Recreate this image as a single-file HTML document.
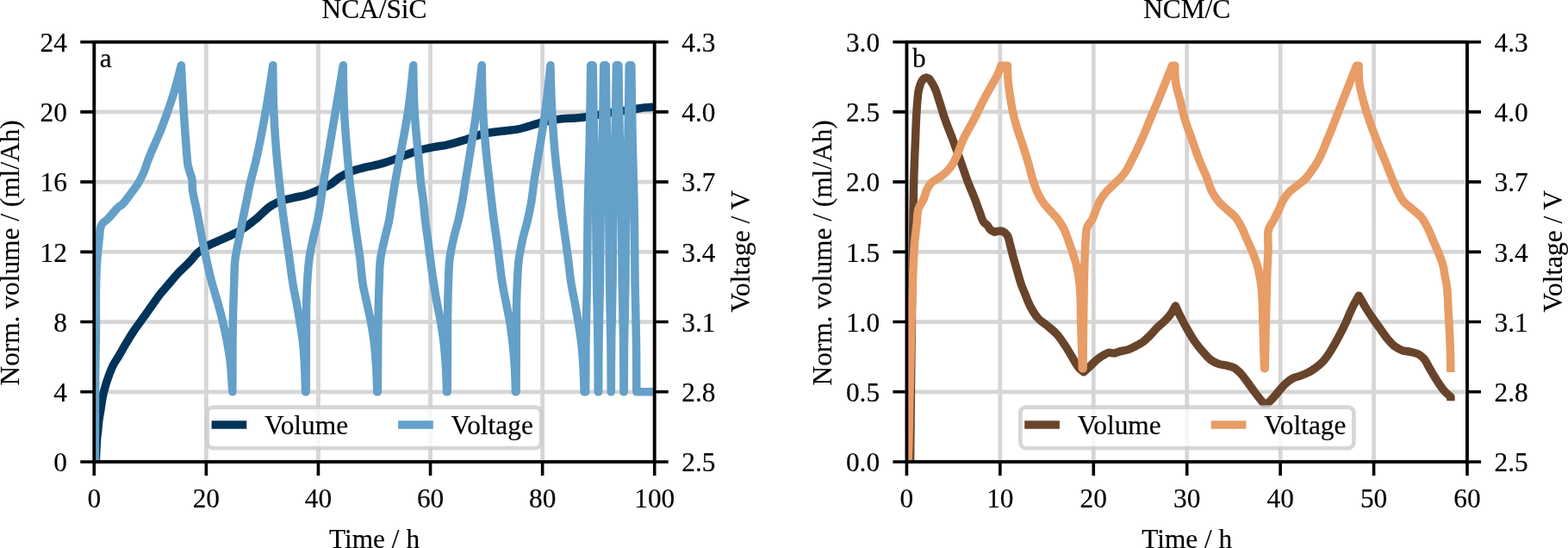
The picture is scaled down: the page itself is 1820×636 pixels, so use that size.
<!DOCTYPE html>
<html lang="en">
<head>
<meta charset="utf-8">
<title>Normalized gas volume and voltage over time</title>
<style>
html, body { margin: 0; padding: 0; background: #ffffff; }
body { width: 1820px; height: 636px; overflow: hidden; }
svg { display: block; }
svg text { font-family: "Liberation Serif", serif; font-size: 32.1px; fill: #000; stroke: #000; stroke-width: 0.18px; }
</style>
</head>
<body>
<svg width="1820" height="636" viewBox="0 0 1820 636">
<rect width="1820" height="636" fill="#ffffff"/>
<clipPath id="c1"><rect x="109.25" y="48.7" width="650.50" height="487.30"/></clipPath>
<path d="M109.25,48.7V536.0M239.35,48.7V536.0M369.45,48.7V536.0M499.55,48.7V536.0M629.65,48.7V536.0M759.75,48.7V536.0M109.25,536.00H759.75M109.25,454.78H759.75M109.25,373.57H759.75M109.25,292.35H759.75M109.25,211.13H759.75M109.25,129.92H759.75M109.25,48.70H759.75" stroke="#d6d6d7" stroke-width="4.8" fill="none" clip-path="url(#c1)"/>
<g clip-path="url(#c1)" fill="none" stroke-width="9.5" stroke-linejoin="round" stroke-linecap="butt">
<path d="M111.0,540.0C111.1,538.0 111.2,536.0 111.3,534.0C111.5,529.3 111.7,524.7 112.0,520.0C112.2,516.0 112.3,512.0 112.7,508.0C113.0,505.0 113.4,502.0 113.8,499.0C114.1,495.3 114.3,491.7 114.8,488.0C115.3,484.3 116.0,480.7 116.6,477.0C117.9,469.7 118.6,462.2 120.4,455.0C122.2,447.5 124.6,440.2 127.4,433.0C128.5,430.2 129.6,427.4 130.9,424.7C132.7,420.9 135.3,417.4 137.5,413.7C140.1,409.3 142.6,404.8 145.2,400.4C148.5,394.9 151.8,389.3 155.4,384.0C158.7,379.1 162.3,374.4 165.7,369.6C169.2,364.6 172.7,359.7 176.2,354.7C179.6,350.0 182.8,345.2 186.4,340.6C189.3,337.1 192.4,333.8 195.3,330.4C199.5,325.5 203.5,320.5 207.9,315.8C211.8,311.7 216.2,308.2 220.0,304.1C223.1,300.9 225.5,297.1 228.8,294.1C232.5,290.7 236.6,287.9 240.9,285.4C245.1,283.0 249.7,281.3 254.1,279.3C260.0,276.6 266.0,274.3 271.7,271.3C275.4,269.4 279.2,267.4 282.7,265.1C288.2,261.6 293.1,257.4 298.1,253.3C303.8,248.7 308.4,242.7 314.6,238.9C319.1,236.1 324.0,234.0 329.0,232.3C333.3,230.9 337.8,230.3 342.2,229.2C346.6,228.2 351.1,227.5 355.4,226.2C359.9,224.8 364.3,222.8 368.6,221.0C373.8,218.7 379.2,216.7 384.0,213.7C387.9,211.2 391.1,207.8 395.0,205.3C399.2,202.7 403.6,200.4 408.2,198.6C412.5,196.9 417.0,195.9 421.4,194.8C423.1,194.4 424.7,194.1 426.4,193.7C432.3,192.3 438.2,191.3 444.0,189.6C449.2,188.1 454.3,186.3 459.4,184.4C463.8,182.8 468.2,180.8 472.6,179.2C477.7,177.3 482.8,175.5 488.0,174.1C493.1,172.7 498.3,171.7 503.5,170.7C508.6,169.7 513.8,169.2 518.9,168.1C523.3,167.1 527.7,165.9 532.1,164.6C536.5,163.3 540.9,161.9 545.3,160.4C549.7,159.0 554.0,157.0 558.5,155.8C562.8,154.7 567.3,154.2 571.7,153.5C576.8,152.7 582.0,152.3 587.1,151.7C591.5,151.2 595.9,151.0 600.3,150.2C604.8,149.3 609.1,147.9 613.5,146.7C617.9,145.4 622.2,143.7 626.7,142.6C631.8,141.2 637.0,140.2 642.2,139.3C646.6,138.6 651.0,137.8 655.4,137.5C659.8,137.1 664.2,137.3 668.6,137.0C673.0,136.7 677.4,136.1 681.8,135.5C690.7,134.3 699.4,132.3 708.2,130.8C717.7,129.3 727.3,128.2 736.8,126.7C740.5,126.1 744.1,125.3 747.8,124.9C751.1,124.6 754.4,124.5 757.7,124.3C760.1,124.2 762.6,124.1 765.0,123.9" stroke="#003359"/>
<path d="M110.2,540.0C110.3,526.7 110.3,513.3 110.4,500.0C110.5,480.0 110.4,460.0 110.6,440.0C110.8,423.3 111.1,406.7 111.4,390.0C111.9,360.0 110.4,329.9 112.9,300.0C113.6,292.2 114.1,284.3 115.3,276.6C116.2,271.0 115.2,264.6 118.5,260.0C120.2,257.6 123.1,256.1 125.2,254.0C127.4,251.8 129.3,249.3 131.4,247.0C133.5,244.7 135.3,242.1 137.7,240.1C139.0,239.1 140.5,238.4 141.8,237.3C144.0,235.5 145.5,232.9 147.3,230.7C149.6,227.8 151.7,224.9 153.9,221.9C155.8,219.4 157.7,216.9 159.4,214.2C161.0,211.7 162.5,209.1 163.8,206.5C165.4,203.3 166.9,200.0 168.2,196.6C169.0,194.4 169.6,192.2 170.4,190.0C175.2,176.0 182.1,162.9 187.4,149.1C192.9,134.6 198.2,119.9 202.6,105.0C205.4,95.3 207.9,85.6 210.3,75.8C211.4,96.5 212.4,117.3 213.8,138.0C214.8,152.7 215.8,167.3 217.1,182.0C217.3,184.7 217.4,187.4 217.8,190.0C218.3,193.0 219.2,195.9 220.0,198.8C220.8,201.8 222.2,204.6 222.8,207.6C223.5,211.2 223.0,214.9 223.3,218.6C224.1,227.5 226.8,236.2 228.5,245.0C231.4,259.7 233.9,274.4 237.0,289.0C239.9,302.7 242.8,316.5 246.5,330.0C248.5,337.4 251.0,344.6 253.0,352.0C255.0,359.3 257.0,366.6 258.7,374.0C260.4,381.3 262.1,388.6 263.4,396.0C264.8,403.3 266.1,410.6 267.0,418.0C267.9,425.3 268.3,432.7 268.9,440.0C269.2,444.9 269.5,449.9 269.8,454.8C269.8,435.2 269.8,415.6 270.0,396.0C270.2,381.3 270.4,366.7 270.9,352.0C271.1,344.7 271.4,337.3 271.7,330.0C272.1,320.0 271.8,309.9 273.1,300.0C274.0,292.6 275.9,285.3 277.3,278.0C278.7,270.7 280.0,263.3 281.5,256.0C282.9,248.7 284.5,241.3 286.0,234.0C287.5,226.7 288.9,219.3 290.6,212.0C292.4,204.6 294.4,197.4 296.2,190.0C301.2,169.2 305.1,148.1 308.8,127.0C311.8,110.0 314.3,92.9 316.8,75.8C316.9,92.9 317.0,109.9 317.7,127.0C318.5,148.0 320.0,169.0 322.0,190.0C322.7,197.3 323.5,204.7 324.3,212.0C325.1,219.3 325.9,226.7 326.7,234.0C327.6,241.3 328.5,248.7 329.5,256.0C330.5,263.3 331.6,270.7 332.7,278.0C333.8,285.3 334.8,292.7 335.9,300.0C337.3,310.0 338.4,320.0 340.1,330.0C341.3,337.4 342.9,344.7 344.3,352.0C345.6,359.3 346.9,366.7 348.1,374.0C349.3,381.3 350.5,388.6 351.4,396.0C352.2,403.3 352.8,410.7 353.2,418.0C353.7,425.3 353.9,432.7 354.1,440.0C354.3,444.9 354.5,449.9 354.6,454.8L355.2,454.8C355.2,435.2 355.2,415.6 355.4,396.0C355.6,374.0 355.1,352.0 356.5,330.0C357.1,320.0 357.6,309.9 359.0,300.0C360.1,292.6 361.6,285.3 363.2,278.0C364.8,270.6 366.9,263.4 368.5,256.0C370.0,248.7 371.1,241.4 372.3,234.0C373.4,226.7 374.3,219.3 375.4,212.0C376.6,204.7 378.0,197.3 379.2,190.0C382.8,169.0 386.3,148.0 389.8,127.0C392.6,109.9 395.5,92.9 398.3,75.8C398.4,92.9 398.6,109.9 399.4,127.0C400.3,148.0 402.4,169.0 404.1,190.0C404.7,197.3 405.2,204.7 406.0,212.0C406.8,219.4 407.9,226.7 408.8,234.0C409.8,241.3 410.5,248.7 411.5,256.0C412.5,263.3 413.6,270.7 414.7,278.0C415.8,285.3 416.9,292.7 417.9,300.0C419.2,310.0 419.5,320.1 421.2,330.0C422.4,337.4 424.3,344.7 425.9,352.0C427.4,359.3 429.2,366.6 430.6,374.0C432.0,381.3 433.1,388.6 434.1,396.0C435.0,403.3 435.6,410.7 436.1,418.0C436.7,425.3 437.1,432.7 437.3,440.0C437.5,444.9 437.6,449.9 437.7,454.8L438.4,454.8C438.4,435.2 438.5,415.6 438.7,396.0C439.0,374.0 439.1,352.0 440.1,330.0C440.5,320.0 440.3,309.9 441.7,300.0C442.7,292.6 444.6,285.3 446.3,278.0C447.9,270.6 450.1,263.4 451.6,256.0C453.0,248.7 453.8,241.3 455.0,234.0C456.2,226.7 457.3,219.3 458.5,212.0C459.8,204.7 461.3,197.3 462.6,190.0C466.5,169.0 471.0,148.1 474.0,127.0C476.4,110.0 478.1,92.9 479.7,75.8C479.9,92.9 480.1,110.0 481.0,127.0C482.1,148.1 484.6,169.0 486.5,190.0C487.2,197.3 487.7,204.7 488.5,212.0C489.3,219.4 490.6,226.6 491.4,234.0C492.3,241.3 492.7,248.7 493.6,256.0C494.4,263.4 495.6,270.7 496.6,278.0C497.6,285.3 498.4,292.7 499.4,300.0C500.7,310.0 502.0,320.0 503.6,330.0C504.7,337.3 505.9,344.7 507.3,352.0C508.6,359.4 510.3,366.6 511.6,374.0C512.9,381.3 514.0,388.6 514.9,396.0C515.8,403.3 516.4,410.7 516.9,418.0C517.5,425.3 517.9,432.7 518.1,440.0C518.3,444.9 518.4,449.9 518.5,454.8L519.2,454.8C519.2,435.2 519.2,415.6 519.4,396.0C519.6,374.0 519.5,352.0 520.4,330.0C520.8,320.0 520.7,309.9 522.0,300.0C523.0,292.6 524.5,285.3 526.2,278.0C527.8,270.6 530.2,263.4 532.0,256.0C533.7,248.7 535.1,241.4 536.5,234.0C537.8,226.7 538.9,219.3 540.0,212.0C541.2,204.7 542.4,197.3 543.6,190.0C546.9,169.0 550.5,148.1 553.3,127.0C555.5,110.0 557.4,92.9 559.2,75.8C559.4,92.9 559.6,110.0 560.5,127.0C561.5,148.0 563.5,169.0 565.7,190.0C566.5,197.3 567.4,204.7 568.2,212.0C569.0,219.3 569.8,226.7 570.6,234.0C571.5,241.3 572.3,248.7 573.3,256.0C574.3,263.3 575.5,270.7 576.5,278.0C577.5,285.3 578.3,292.7 579.3,300.0C580.6,310.0 581.6,320.0 583.3,330.0C584.5,337.4 586.0,344.7 587.5,352.0C588.9,359.3 590.6,366.6 591.8,374.0C593.0,381.3 593.9,388.6 594.8,396.0C595.6,403.3 596.3,410.7 596.8,418.0C597.4,425.3 597.8,432.7 598.0,440.0C598.2,444.9 598.3,449.9 598.4,454.8L599.1,454.8C599.1,435.2 599.1,415.6 599.3,396.0C599.5,374.0 599.1,352.0 600.3,330.0C600.8,320.0 601.0,309.9 602.4,300.0C603.4,292.6 605.0,285.3 606.6,278.0C608.2,270.6 610.6,263.4 612.3,256.0C613.9,248.7 615.5,241.4 616.8,234.0C618.0,226.7 618.7,219.3 619.7,212.0C620.8,204.7 622.1,197.3 623.3,190.0C626.7,169.0 630.4,148.1 633.2,127.0C635.4,110.0 637.2,92.9 638.9,75.8C639.3,92.9 639.7,109.9 640.6,127.0C641.7,148.0 643.1,169.1 645.4,190.0C646.2,197.3 647.2,204.7 648.1,212.0C648.9,219.3 649.7,226.7 650.5,234.0C651.4,241.3 652.2,248.7 653.2,256.0C654.2,263.3 655.3,270.7 656.4,278.0C657.4,285.3 658.4,292.7 659.4,300.0C660.7,310.0 661.5,320.1 663.2,330.0C664.4,337.4 666.0,344.7 667.4,352.0C668.7,359.3 670.0,366.7 671.2,374.0C672.4,381.3 673.6,388.6 674.5,396.0C675.4,403.3 676.0,410.7 676.5,418.0C677.1,425.3 677.5,432.7 677.7,440.0C677.9,444.9 678.0,449.9 678.1,454.8L679.7,454.8C679.7,449.9 679.7,444.9 679.8,440.0C679.8,425.3 679.8,410.7 680.0,396.0C680.3,374.0 681.0,352.0 681.4,330.0C681.8,301.7 681.7,273.3 682.2,245.0C682.7,217.7 683.7,190.3 684.3,163.0C684.9,133.9 685.3,104.9 685.7,75.8L688.2,75.8C688.6,104.9 689.0,133.9 689.6,163.0C690.2,190.3 691.2,217.7 691.7,245.0C692.2,273.3 692.1,301.7 692.6,330.0C692.9,352.0 693.6,374.0 693.9,396.0C694.1,410.7 694.1,425.3 694.2,440.0C694.2,444.9 694.2,449.9 694.2,454.8L694.7,454.8C694.7,449.9 694.7,444.9 694.8,440.0C694.8,425.3 694.8,410.7 695.0,396.0C695.3,374.0 696.0,352.0 696.4,330.0C696.8,301.7 696.7,273.3 697.2,245.0C697.7,217.7 698.7,190.3 699.3,163.0C699.9,133.9 700.3,104.9 700.7,75.8L703.2,75.8C703.6,104.9 704.0,133.9 704.6,163.0C705.2,190.3 706.2,217.7 706.7,245.0C707.2,273.3 707.1,301.7 707.6,330.0C707.9,352.0 708.6,374.0 708.9,396.0C709.1,410.7 709.1,425.3 709.2,440.0C709.2,444.9 709.2,449.9 709.2,454.8L709.4,454.8C709.4,449.9 709.4,444.9 709.4,440.0C709.5,425.3 709.5,410.7 709.7,396.0C710.0,374.0 710.7,352.0 711.0,330.0C711.5,301.7 711.4,273.3 711.9,245.0C712.4,217.7 713.4,190.3 714.0,163.0C714.6,133.9 715.0,104.9 715.4,75.8L717.9,75.8C718.3,104.9 718.7,133.9 719.3,163.0C719.9,190.3 720.9,217.7 721.4,245.0C721.9,273.3 721.8,301.7 722.2,330.0C722.6,352.0 723.3,374.0 723.6,396.0C723.8,410.7 723.8,425.3 723.9,440.0C723.9,444.9 723.9,449.9 723.9,454.8L724.3,454.8C724.3,449.9 724.3,444.9 724.3,440.0C724.4,425.3 724.4,410.7 724.6,396.0C724.9,374.0 725.6,352.0 725.9,330.0C726.4,301.7 726.3,273.3 726.8,245.0C727.3,217.7 728.3,190.3 728.9,163.0C729.5,133.9 729.9,104.9 730.2,75.8L732.8,75.8C733.2,104.9 733.6,133.9 734.2,163.0C734.8,190.3 735.8,217.7 736.2,245.0C736.8,273.3 736.7,301.7 737.1,330.0C737.5,352.0 738.2,374.0 738.5,396.0C738.7,410.7 738.7,425.3 738.8,440.0C738.8,444.9 738.8,449.9 738.8,454.8C739.0,454.8 739.1,454.8 739.3,454.8C747.9,454.8 756.4,454.8 765.0,454.8" stroke="#64a0c8"/>
</g>
<path d="M109.25,536.0v16M239.35,536.0v16M369.45,536.0v16M499.55,536.0v16M629.65,536.0v16M759.75,536.0v16M109.25,536.00h-16M759.75,536.00h16M109.25,454.78h-16M759.75,454.78h16M109.25,373.57h-16M759.75,373.57h16M109.25,292.35h-16M759.75,292.35h16M109.25,211.13h-16M759.75,211.13h16M109.25,129.92h-16M759.75,129.92h16M109.25,48.70h-16M759.75,48.70h16" stroke="#000" stroke-width="3.6" fill="none"/>
<rect x="109.25" y="48.7" width="650.50" height="487.30" fill="none" stroke="#000" stroke-width="3.8" stroke-linejoin="miter"/>
<text transform="translate(109.25,589.00) scale(0.977,1)" text-anchor="middle">0</text>
<text transform="translate(239.35,589.00) scale(0.977,1)" text-anchor="middle">20</text>
<text transform="translate(369.45,589.00) scale(0.977,1)" text-anchor="middle">40</text>
<text transform="translate(499.55,589.00) scale(0.977,1)" text-anchor="middle">60</text>
<text transform="translate(629.65,589.00) scale(0.977,1)" text-anchor="middle">80</text>
<text transform="translate(759.75,589.00) scale(0.977,1)" text-anchor="middle">100</text>
<text transform="translate(77.95,547.20) scale(0.977,1)" text-anchor="end">0</text>
<text transform="translate(791.25,547.20) scale(0.977,1)">2.5</text>
<text transform="translate(77.95,465.98) scale(0.977,1)" text-anchor="end">4</text>
<text transform="translate(791.25,465.98) scale(0.977,1)">2.8</text>
<text transform="translate(77.95,384.77) scale(0.977,1)" text-anchor="end">8</text>
<text transform="translate(791.25,384.77) scale(0.977,1)">3.1</text>
<text transform="translate(77.95,303.55) scale(0.977,1)" text-anchor="end">12</text>
<text transform="translate(791.25,303.55) scale(0.977,1)">3.4</text>
<text transform="translate(77.95,222.33) scale(0.977,1)" text-anchor="end">16</text>
<text transform="translate(791.25,222.33) scale(0.977,1)">3.7</text>
<text transform="translate(77.95,141.12) scale(0.977,1)" text-anchor="end">20</text>
<text transform="translate(791.25,141.12) scale(0.977,1)">4.0</text>
<text transform="translate(77.95,59.90) scale(0.977,1)" text-anchor="end">24</text>
<text transform="translate(791.25,59.90) scale(0.977,1)">4.3</text>
<text transform="translate(434.50,21.20) scale(0.977,1)" text-anchor="middle">NCA/SiC</text>
<text transform="translate(434.50,635.70) scale(0.977,1)" text-anchor="middle">Time / h</text>
<text transform="translate(22.05,293.35) rotate(-90) scale(0.977,1)" text-anchor="middle">Norm. volume / (ml/Ah)</text>
<text transform="translate(869.75,291.75) rotate(-90) scale(0.977,1)" text-anchor="middle">Voltage / V</text>
<text transform="translate(115.75,78.10) scale(0.977,1)">a</text>
<rect x="240.7" y="472.6" width="387.30" height="47.50" rx="6.5" fill="#fff" fill-opacity="0.8" stroke="#cccccc" stroke-opacity="0.8" stroke-width="4.7"/>
<path d="M245.60,492.95h40.7" stroke="#003359" stroke-width="9.5" fill="none"/>
<text transform="translate(307.10,504.45) scale(0.977,1)">Volume</text>
<path d="M462.10,492.95h40.7" stroke="#64a0c8" stroke-width="9.5" fill="none"/>
<text transform="translate(523.60,504.45) scale(0.977,1)">Voltage</text>
<clipPath id="c2"><rect x="1052.4" y="48.7" width="650.60" height="487.30"/></clipPath>
<path d="M1052.40,48.7V536.0M1160.83,48.7V536.0M1269.27,48.7V536.0M1377.70,48.7V536.0M1486.13,48.7V536.0M1594.57,48.7V536.0M1703.00,48.7V536.0M1052.4,536.00H1703.0M1052.4,454.78H1703.0M1052.4,373.57H1703.0M1052.4,292.35H1703.0M1052.4,211.13H1703.0M1052.4,129.92H1703.0M1052.4,48.70H1703.0" stroke="#d6d6d7" stroke-width="4.8" fill="none" clip-path="url(#c2)"/>
<g clip-path="url(#c2)" fill="none" stroke-width="9.5" stroke-linejoin="round" stroke-linecap="butt">
<path d="M1056.5,540.0C1057.0,493.3 1057.4,446.7 1058.0,400.0C1058.4,366.7 1058.8,333.3 1059.3,300.0C1059.8,266.7 1059.9,233.3 1061.0,200.0C1061.4,188.2 1061.9,176.3 1062.4,164.5C1062.8,155.7 1063.0,146.9 1063.5,138.1C1063.9,131.5 1064.1,124.8 1064.8,118.2C1065.3,113.1 1065.4,107.8 1066.8,102.8C1067.6,99.8 1068.3,96.6 1070.0,94.0C1070.7,93.0 1071.3,91.9 1072.3,91.2C1073.2,90.6 1074.2,90.4 1075.2,90.1C1076.3,90.3 1077.3,90.6 1078.2,91.2C1079.2,91.9 1079.7,93.0 1080.4,94.0C1082.4,96.7 1083.9,99.8 1085.3,102.8C1087.2,107.0 1088.4,111.6 1089.8,116.0C1092.3,123.3 1094.2,130.8 1096.8,138.1C1099.3,145.5 1102.4,152.7 1105.2,160.1C1108.9,170.0 1112.4,180.0 1116.0,190.0C1118.6,197.3 1121.0,204.7 1123.8,212.0C1126.0,217.9 1128.7,223.7 1131.0,229.6C1133.3,235.4 1135.2,241.4 1137.5,247.2C1139.0,250.9 1139.5,255.2 1142.1,258.2C1143.2,259.5 1144.8,260.3 1146.0,261.5C1147.6,263.2 1148.3,265.7 1150.1,267.1C1151.4,268.1 1152.9,268.7 1154.5,269.3C1155.9,268.8 1157.4,268.3 1158.9,268.2C1160.7,268.0 1162.7,268.1 1164.4,268.8C1166.2,269.6 1167.6,271.1 1168.8,272.6C1171.0,275.3 1171.1,279.2 1172.1,282.5C1173.4,286.8 1174.2,291.3 1175.4,295.7C1176.8,300.9 1178.3,306.0 1179.8,311.1C1181.6,317.4 1183.1,323.8 1185.3,330.0C1186.6,333.7 1188.2,337.3 1189.7,341.0C1191.8,346.2 1193.6,351.5 1196.3,356.4C1198.8,361.0 1201.5,365.7 1205.1,369.6C1208.3,373.0 1212.5,375.4 1216.1,378.4C1219.9,381.6 1223.8,384.6 1227.1,388.3C1230.4,392.0 1233.1,396.3 1235.9,400.4C1239.0,405.1 1241.7,410.0 1244.7,414.8C1247.2,418.9 1249.1,423.4 1252.4,426.9C1254.1,428.7 1256.0,430.2 1257.9,431.7C1260.1,429.7 1262.3,427.8 1264.5,425.8C1267.5,423.0 1270.2,419.8 1273.4,417.3C1276.2,415.1 1279.1,413.1 1282.2,411.4C1283.6,410.7 1285.0,409.7 1286.6,409.4C1288.8,408.9 1291.0,410.2 1293.2,410.0C1295.5,409.7 1297.6,408.4 1299.8,407.8C1302.7,407.0 1305.7,406.9 1308.6,406.0C1311.7,405.0 1314.5,403.5 1317.4,402.1C1320.4,400.6 1323.5,399.1 1326.2,397.2C1329.5,394.9 1332.2,391.9 1335.0,389.1C1338.1,386.1 1340.7,382.6 1343.8,379.6C1346.6,376.9 1349.9,374.6 1352.6,371.8C1355.0,369.4 1357.2,366.9 1359.2,364.1C1361.2,361.2 1362.8,358.1 1364.4,355.0C1366.5,359.5 1368.6,364.1 1370.8,368.5C1373.2,373.3 1375.8,378.1 1378.5,382.8C1381.3,387.7 1384.1,392.5 1387.3,397.1C1390.3,401.4 1393.7,405.4 1397.2,409.3C1400.0,412.4 1402.6,415.7 1406.0,418.1C1408.7,420.0 1411.8,421.5 1414.9,422.5C1417.7,423.4 1420.8,423.5 1423.7,424.2C1426.7,424.9 1429.8,425.4 1432.5,426.9C1435.5,428.5 1437.8,431.1 1440.2,433.5C1443.1,436.5 1445.4,440.1 1447.9,443.4C1450.9,447.4 1453.7,451.5 1456.7,455.5C1459.2,458.8 1461.7,462.2 1464.4,465.4C1465.8,467.1 1467.3,468.7 1468.8,470.4C1470.7,468.8 1472.5,467.1 1474.3,465.4C1477.5,462.3 1480.2,458.8 1483.1,455.5C1486.0,452.2 1488.6,448.6 1491.9,445.6C1494.6,443.1 1497.4,440.7 1500.7,439.0C1503.5,437.6 1506.6,437.2 1509.5,436.1C1512.5,435.0 1515.5,433.9 1518.3,432.4C1521.4,430.8 1524.3,428.9 1527.1,426.9C1530.2,424.6 1533.2,422.0 1535.9,419.2C1539.3,415.5 1542.0,411.2 1544.7,407.0C1547.9,402.0 1550.7,396.8 1553.5,391.6C1556.6,385.8 1559.5,379.9 1562.3,374.0C1565.0,368.2 1567.1,362.1 1570.0,356.4C1572.3,351.9 1574.8,347.6 1577.3,343.2C1579.6,347.3 1581.9,351.5 1584.4,355.6C1587.2,360.2 1590.1,364.8 1593.2,369.3C1596.0,373.4 1599.1,377.4 1602.0,381.5C1604.9,385.5 1607.5,389.8 1610.8,393.6C1613.5,396.7 1616.2,400.0 1619.6,402.4C1622.3,404.3 1625.3,405.9 1628.4,406.9C1631.2,407.8 1634.3,407.7 1637.2,408.4C1640.2,409.1 1643.3,409.5 1646.0,410.9C1648.5,412.2 1650.7,414.0 1652.6,416.0C1655.2,418.8 1656.5,422.5 1658.4,425.8C1660.6,429.5 1662.6,433.2 1664.8,436.8C1666.9,440.1 1668.9,443.5 1671.2,446.7C1673.1,449.4 1674.9,452.1 1677.2,454.5C1678.5,455.8 1679.9,457.1 1681.3,458.3C1682.2,459.1 1683.0,459.8 1683.9,460.6L1683.9,465.2" stroke="#68442b"/>
<path d="M1053.8,540.0C1053.9,538.7 1053.9,537.3 1054.0,536.0C1055.1,514.0 1055.2,492.0 1055.7,470.0C1056.3,446.7 1056.7,423.3 1057.3,400.0C1057.9,376.7 1058.4,353.3 1059.3,330.0C1059.6,321.7 1059.9,313.3 1060.3,305.0C1060.7,297.3 1061.0,289.7 1061.6,282.0C1062.3,274.0 1063.4,266.0 1064.3,258.0C1064.9,252.6 1064.4,246.8 1066.3,241.7C1067.6,238.2 1070.2,235.2 1071.8,231.8C1073.8,227.6 1074.2,222.7 1076.5,218.6C1077.8,216.3 1079.2,213.9 1081.1,212.0C1083.0,210.1 1085.6,209.1 1087.8,207.6C1090.4,205.8 1093.1,204.1 1095.5,202.1C1097.9,200.1 1100.1,197.9 1102.1,195.5C1103.5,193.8 1104.8,191.9 1106.0,190.0C1111.9,180.9 1114.0,169.8 1118.8,160.1C1122.5,152.6 1126.9,145.5 1130.7,138.1C1134.5,130.8 1137.9,123.3 1141.7,116.0C1143.9,111.9 1146.0,107.8 1148.3,103.8C1150.3,100.2 1152.4,96.8 1154.4,93.2C1155.8,90.6 1157.4,87.9 1158.6,85.2C1159.9,82.3 1161.0,79.2 1162.0,76.2L1169.4,76.2C1169.5,81.8 1169.6,87.4 1170.0,93.0C1170.5,99.4 1171.5,105.7 1172.5,112.0C1173.4,118.0 1174.3,124.0 1175.6,130.0C1176.9,136.1 1178.5,142.1 1180.3,148.0C1182.1,154.1 1184.3,160.0 1186.3,166.0C1188.9,174.0 1191.5,181.9 1193.8,190.0C1195.5,195.8 1196.7,201.8 1198.5,207.6C1200.1,212.8 1201.7,218.1 1204.0,223.0C1206.2,227.6 1208.7,232.1 1211.7,236.2C1214.3,239.8 1217.6,242.8 1220.5,246.1C1223.4,249.4 1226.4,252.5 1229.0,256.0C1231.2,259.2 1233.2,262.5 1235.0,266.0C1236.9,269.9 1238.3,274.0 1239.8,278.1C1241.4,282.5 1242.9,286.9 1244.4,291.3C1246.0,296.4 1247.8,301.5 1249.1,306.7C1250.4,311.8 1251.2,316.9 1252.0,322.1C1252.4,324.7 1252.8,327.4 1253.1,330.0C1254.9,344.6 1254.1,359.3 1254.6,374.0C1255.2,391.9 1255.8,409.8 1256.4,427.7L1257.1,427.7C1257.3,395.1 1257.5,362.6 1258.3,330.0C1258.5,320.0 1258.7,310.0 1259.1,300.0C1259.4,292.7 1259.5,285.3 1260.2,278.0C1260.6,273.2 1260.2,268.2 1261.9,263.7C1263.3,260.0 1266.5,257.3 1268.2,253.8C1270.0,250.3 1271.0,246.4 1272.4,242.8C1273.8,239.5 1275.0,236.1 1276.8,232.9C1278.7,229.4 1281.1,226.1 1283.7,223.0C1286.7,219.4 1290.4,216.4 1293.8,213.1C1296.8,210.2 1300.0,207.5 1302.6,204.3C1304.6,201.9 1306.5,199.3 1308.1,196.6C1309.4,194.5 1310.4,192.2 1311.6,190.0C1316.7,180.2 1321.5,170.2 1326.0,160.1C1329.2,152.8 1332.0,145.4 1335.1,138.1C1338.2,130.7 1341.5,123.4 1344.5,116.0C1347.6,108.7 1350.5,101.3 1353.4,94.0C1355.8,88.1 1358.1,82.1 1360.5,76.2L1363.7,76.2C1363.7,82.9 1363.7,89.6 1364.7,96.2C1365.7,102.9 1368.0,109.4 1369.7,116.0C1371.5,123.4 1373.0,130.8 1375.2,138.1C1377.4,145.5 1380.3,152.8 1382.9,160.1C1386.4,170.1 1389.7,180.2 1393.7,190.0C1395.8,195.2 1398.4,200.2 1400.5,205.4C1402.5,210.5 1403.6,215.9 1406.0,220.8C1408.1,225.1 1410.7,229.2 1413.7,232.9C1416.6,236.5 1420.3,239.6 1423.7,242.8C1427.2,246.2 1431.5,248.9 1434.5,252.7C1437.5,256.3 1439.4,260.6 1441.6,264.8C1443.8,269.1 1445.5,273.7 1447.4,278.1C1449.7,283.2 1452.2,288.3 1454.2,293.5C1456.2,298.6 1458.1,303.7 1459.6,308.9C1460.8,313.2 1461.6,317.7 1462.4,322.1C1462.9,324.7 1463.3,327.4 1463.7,330.0C1465.8,344.5 1465.3,359.3 1465.9,374.0C1466.6,391.9 1467.1,409.8 1467.5,427.7L1468.2,427.7C1468.8,395.1 1469.5,362.6 1470.4,330.0C1470.6,324.4 1470.7,318.9 1470.9,313.3C1471.2,305.2 1471.6,297.1 1472.0,289.0C1472.4,280.9 1470.1,272.3 1473.0,264.8C1474.4,261.3 1476.9,258.2 1478.7,254.9C1480.6,251.3 1482.4,247.6 1484.2,243.9C1486.1,239.9 1487.4,235.6 1489.7,231.8C1491.6,228.7 1493.8,225.7 1496.3,223.0C1499.5,219.6 1503.7,217.2 1507.3,214.2C1510.3,211.7 1513.5,209.4 1516.1,206.5C1518.6,203.8 1520.6,200.7 1522.7,197.7C1524.5,195.2 1526.3,192.6 1527.9,190.0C1533.7,180.7 1537.2,170.2 1541.5,160.1C1544.6,152.8 1547.4,145.4 1550.3,138.1C1553.2,130.7 1556.0,123.4 1558.9,116.0C1561.8,108.7 1564.6,101.3 1567.5,94.0C1569.8,88.1 1572.2,82.1 1574.5,76.2L1577.1,76.2C1577.0,82.9 1577.0,89.6 1577.8,96.2C1578.7,102.9 1580.5,109.5 1582.2,116.0C1584.1,123.4 1586.4,130.8 1588.8,138.1C1591.3,145.5 1594.1,152.8 1596.9,160.1C1600.7,170.1 1605.0,180.0 1609.0,190.0C1611.1,195.1 1613.1,200.3 1615.2,205.4C1617.3,210.6 1619.3,215.8 1621.8,220.8C1623.8,224.9 1625.6,229.3 1628.4,232.9C1631.4,236.8 1635.7,239.5 1639.4,242.8C1643.0,246.1 1647.2,248.9 1650.2,252.7C1653.2,256.3 1655.1,260.6 1657.3,264.8C1659.5,269.1 1661.2,273.7 1663.1,278.1C1665.0,282.5 1667.0,286.9 1668.8,291.3C1670.8,296.4 1673.1,301.4 1674.6,306.7C1676.0,311.7 1676.5,317.0 1677.5,322.1C1678.0,324.7 1678.6,327.4 1679.0,330.0C1680.8,340.9 1680.5,352.0 1681.2,363.0C1681.9,374.0 1682.6,385.0 1683.0,396.0C1683.5,408.0 1683.7,420.0 1683.9,432.0" stroke="#e89c66"/>
</g>
<path d="M1052.40,536.0v16M1160.83,536.0v16M1269.27,536.0v16M1377.70,536.0v16M1486.13,536.0v16M1594.57,536.0v16M1703.00,536.0v16M1052.4,536.00h-16M1703.0,536.00h16M1052.4,454.78h-16M1703.0,454.78h16M1052.4,373.57h-16M1703.0,373.57h16M1052.4,292.35h-16M1703.0,292.35h16M1052.4,211.13h-16M1703.0,211.13h16M1052.4,129.92h-16M1703.0,129.92h16M1052.4,48.70h-16M1703.0,48.70h16" stroke="#000" stroke-width="3.6" fill="none"/>
<rect x="1052.4" y="48.7" width="650.60" height="487.30" fill="none" stroke="#000" stroke-width="3.8" stroke-linejoin="miter"/>
<text transform="translate(1052.40,589.00) scale(0.977,1)" text-anchor="middle">0</text>
<text transform="translate(1160.83,589.00) scale(0.977,1)" text-anchor="middle">10</text>
<text transform="translate(1269.27,589.00) scale(0.977,1)" text-anchor="middle">20</text>
<text transform="translate(1377.70,589.00) scale(0.977,1)" text-anchor="middle">30</text>
<text transform="translate(1486.13,589.00) scale(0.977,1)" text-anchor="middle">40</text>
<text transform="translate(1594.57,589.00) scale(0.977,1)" text-anchor="middle">50</text>
<text transform="translate(1703.00,589.00) scale(0.977,1)" text-anchor="middle">60</text>
<text transform="translate(1021.10,547.20) scale(0.977,1)" text-anchor="end">0.0</text>
<text transform="translate(1734.50,547.20) scale(0.977,1)">2.5</text>
<text transform="translate(1021.10,465.98) scale(0.977,1)" text-anchor="end">0.5</text>
<text transform="translate(1734.50,465.98) scale(0.977,1)">2.8</text>
<text transform="translate(1021.10,384.77) scale(0.977,1)" text-anchor="end">1.0</text>
<text transform="translate(1734.50,384.77) scale(0.977,1)">3.1</text>
<text transform="translate(1021.10,303.55) scale(0.977,1)" text-anchor="end">1.5</text>
<text transform="translate(1734.50,303.55) scale(0.977,1)">3.4</text>
<text transform="translate(1021.10,222.33) scale(0.977,1)" text-anchor="end">2.0</text>
<text transform="translate(1734.50,222.33) scale(0.977,1)">3.7</text>
<text transform="translate(1021.10,141.12) scale(0.977,1)" text-anchor="end">2.5</text>
<text transform="translate(1734.50,141.12) scale(0.977,1)">4.0</text>
<text transform="translate(1021.10,59.90) scale(0.977,1)" text-anchor="end">3.0</text>
<text transform="translate(1734.50,59.90) scale(0.977,1)">4.3</text>
<text transform="translate(1377.70,21.20) scale(0.977,1)" text-anchor="middle">NCM/C</text>
<text transform="translate(1377.70,635.70) scale(0.977,1)" text-anchor="middle">Time / h</text>
<text transform="translate(965.20,293.35) rotate(-90) scale(0.977,1)" text-anchor="middle">Norm. volume / (ml/Ah)</text>
<text transform="translate(1813.00,291.75) rotate(-90) scale(0.977,1)" text-anchor="middle">Voltage / V</text>
<text transform="translate(1058.90,78.10) scale(0.977,1)">b</text>
<rect x="1184.3" y="472.6" width="387.10" height="47.50" rx="6.5" fill="#fff" fill-opacity="0.8" stroke="#cccccc" stroke-opacity="0.8" stroke-width="4.7"/>
<path d="M1189.20,492.95h40.7" stroke="#68442b" stroke-width="9.5" fill="none"/>
<text transform="translate(1250.70,504.45) scale(0.977,1)">Volume</text>
<path d="M1405.70,492.95h40.7" stroke="#e89c66" stroke-width="9.5" fill="none"/>
<text transform="translate(1467.20,504.45) scale(0.977,1)">Voltage</text>
</svg>
</body>
</html>
